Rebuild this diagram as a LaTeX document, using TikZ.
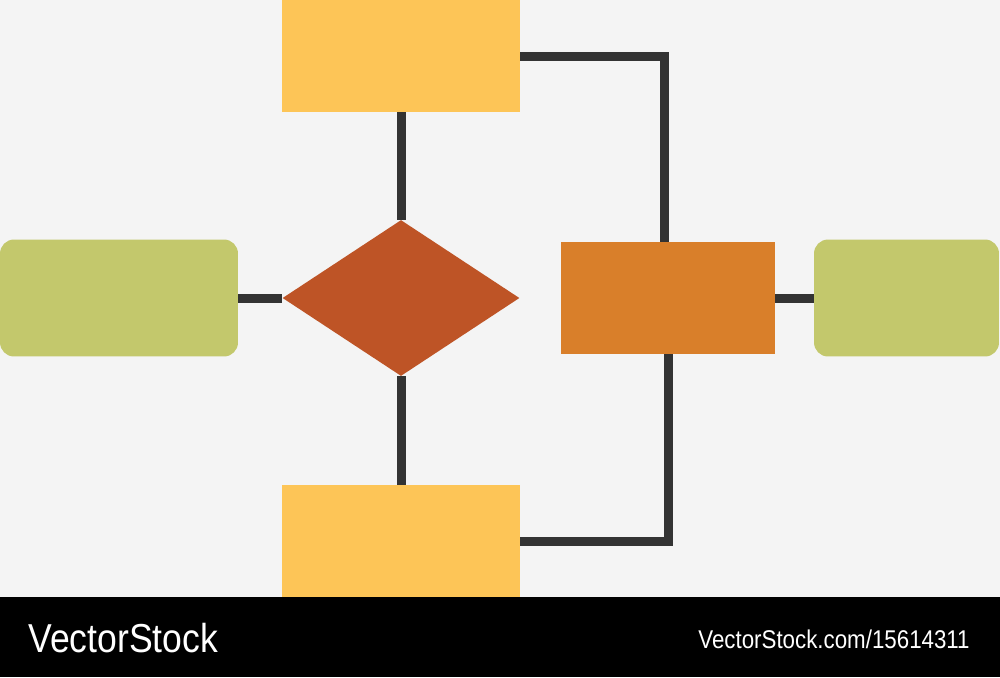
\documentclass[tikz,border=0pt]{standalone}
\usepackage{fontspec}
\setmainfont{Liberation Sans}
\usetikzlibrary{shapes.geometric}

\definecolor{bgcol}{HTML}{F4F4F4}
\definecolor{linecol}{HTML}{333333}
\definecolor{yellowbox}{HTML}{FDC557}
\definecolor{greenbox}{HTML}{C3C86C}
\definecolor{orangebox}{HTML}{D97F2A}
\definecolor{rustbox}{HTML}{BE5426}

\tikzset{
    block/.style={rectangle,inner sep=0pt,draw=none},
    wire/.style={draw=linecol,line width=0.18cm}
}

\begin{document}
\begin{tikzpicture}[x=0.02cm,y=-0.02cm]
            \useasboundingbox (0,0) rectangle (1000,677);
            \fill[bgcol] (0,0) rectangle (1000,597);

            \node[block,fill=yellowbox,minimum width=4.76cm,minimum height=2.24cm] (top) at (401,56) {};
            \node[block,fill=yellowbox,minimum width=4.76cm,minimum height=2.24cm] (bottom) at (401,541) {};
            \node[diamond,inner sep=0pt,fill=rustbox,minimum width=4.74cm,minimum height=3.12cm] (decide) at (401,298) {};
            \node[block,fill=greenbox,rounded corners=0.28cm,minimum width=4.76cm,minimum height=2.34cm] (left) at (119,298) {};
            \node[block,fill=orangebox,minimum width=4.28cm,minimum height=2.24cm] (process) at (668,298) {};
            \node[block,fill=greenbox,rounded corners=0.28cm,minimum width=3.7cm,minimum height=2.34cm] (right) at (906.5,298) {};

            \draw[wire] (top.south) -- (decide.north);
            \draw[wire] (decide.south) -- (bottom.north);
            \draw[wire] (left.east) -- (decide.west);
            \draw[wire] (process.east) -- (right.west);
            \draw[wire] (top.east) -| ([xshift=-0.07cm]process.north);
            \draw[wire] (process.south) |- (bottom.east);

            \fill[black] (0,597) rectangle (1000,677);
            \node[anchor=base west,inner sep=0pt,text=white,font=\fontsize{23}{23}\selectfont] (brand) at (28,652) {\scalebox{0.88}[1]{VectorStock}};
            \node[anchor=base east,inner sep=0pt,text=white,font=\fontsize{14.6}{15}\selectfont] (url) at (970,648) {\scalebox{0.87}[1]{VectorStock.com/15614311}};
        \end{tikzpicture}
\end{document}
